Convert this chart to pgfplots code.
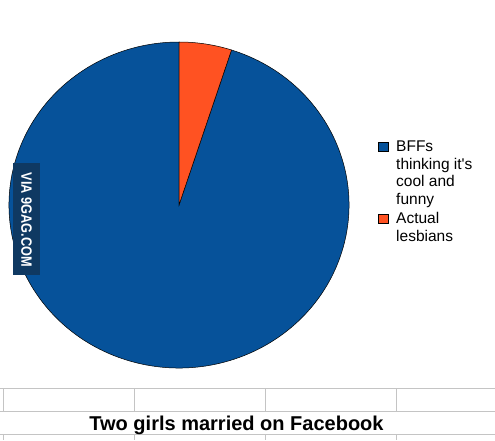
\documentclass[border=0pt]{standalone}
\usepackage{pgfplots}
\usepackage{pgfplotstable}
\usepackage{graphicx}
\pgfplotsset{compat=1.18}
\usepackage{fontspec}
\setmainfont{Liberation Sans}
\definecolor{pieblue}{HTML}{06529A}
\definecolor{pieorange}{HTML}{FF5222}
\definecolor{wmbox}{HTML}{0F3962}
\definecolor{gridgray}{HTML}{C4C4C4}

\pgfplotstableread{
label value
BFFs 95
Lesbians 5
}\piedata

\begin{document}
\begin{tikzpicture}
\pgfplotstablegetelem{0}{value}\of\piedata \let\vA\pgfplotsretval
\pgfplotstablegetelem{1}{value}\of\piedata \let\vB\pgfplotsretval
\pgfmathsetmacro\aB{90-3.6*\vB}
\pgfmathsetmacro\aEnd{\aB-3.6*\vA}
\begin{axis}[
  name=ax,
  at={(0,0)}, anchor=south west,
  scale only axis, width=495pt, height=440pt,
  xmin=0, xmax=495, ymin=0, ymax=440,
  hide axis, clip=false,
]
% pie
\filldraw[fill=pieblue, draw=black, line width=0.5pt]
  (axis cs:179,235) -- ++(\aB:{170pt} and {163pt})
  arc[start angle=\aB, end angle=\aEnd, x radius=170pt, y radius=163pt] -- cycle;
\filldraw[fill=pieorange, draw=black, line width=0.5pt]
  (axis cs:179,235) -- ++(90:{170pt} and {163pt})
  arc[start angle=90, end angle=\aB, x radius=170pt, y radius=163pt] -- cycle;
% watermark
\fill[wmbox] (axis cs:13,165) rectangle (axis cs:40,277);
\node[rotate=-90, text=white, inner sep=0pt]
  at (axis cs:26.5,220) {\scalebox{0.85}[1]{\bfseries\fontsize{15}{15}\selectfont VIA 9GAG.COM}};
% legend
\filldraw[fill=pieblue, draw=black, line width=0.4pt] (axis cs:378,289) rectangle (axis cs:388,298);
\filldraw[fill=pieorange, draw=black, line width=0.4pt] (axis cs:378,217) rectangle (axis cs:388,226);
\node[anchor=north west, inner sep=0pt, font=\fontsize{15.5}{17.5}\selectfont, align=left]
  at (axis cs:396,299) {BFFs\\thinking it\textquotesingle s\\cool and\\funny};
\node[anchor=north west, inner sep=0pt, font=\fontsize{15.5}{17.5}\selectfont, align=left]
  at (axis cs:396,227.5) {Actual\\lesbians};
% spreadsheet grid
\draw[gridgray, line width=0.6pt] (axis cs:0,52) -- (axis cs:495,52);
\draw[gridgray, line width=0.6pt] (axis cs:0,29) -- (axis cs:495,29);
\draw[gridgray, line width=0.6pt] (axis cs:0,6) -- (axis cs:495,6);
\pgfplotsinvokeforeach{3,134,265,396}{
  \draw[gridgray, line width=0.6pt] (axis cs:#1,52) -- (axis cs:#1,29);
  \draw[gridgray, line width=0.6pt] (axis cs:#1,6) -- (axis cs:#1,0);
}
\node[font=\bfseries\fontsize{20}{20}\selectfont, inner sep=0pt, anchor=base]
  at (axis cs:236.5,10) {Two girls married on Facebook};
\end{axis}
\pgfresetboundingbox
\path (ax.south west) rectangle (ax.north east);
\end{tikzpicture}
\end{document}
